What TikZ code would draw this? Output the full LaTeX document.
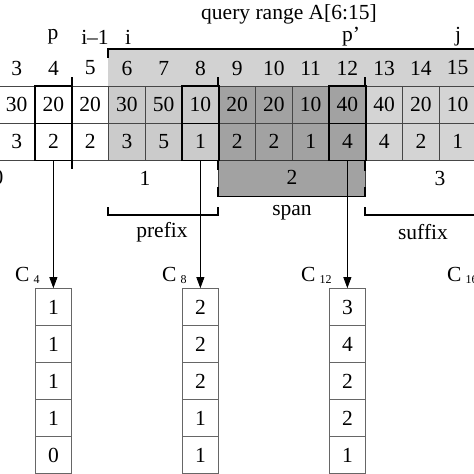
\documentclass[tikz,border=0pt]{standalone}
\usepackage{fontspec}
\setmainfont{Liberation Serif}
\usetikzlibrary{arrows.meta}
\definecolor{lightg}{HTML}{CBCBCB}
\definecolor{darkg}{HTML}{A2A2A2}
\definecolor{sufg}{HTML}{D4D4D4}
\definecolor{idxg}{HTML}{D2D2D2}
\newcommand\csub[2]{#1\hspace{4pt}{\fontsize{12}{12}\selectfont\raisebox{-2pt}{#2}}}
\begin{document}
\begin{tikzpicture}[x=1pt,y=-1pt,
  font=\fontsize{21.5}{23}\selectfont,
  cell/.style={draw=gray!55!black, line width=0.6pt, minimum width=36.75pt,
    minimum height=37pt, inner sep=0pt, anchor=center},
  ccell/.style={draw=gray!80!black, line width=0.7pt, fill=white, minimum width=36.75pt,
    minimum height=37pt, inner sep=0pt, anchor=center},
  boxline/.style={line width=1.6pt, black},
  tick/.style={line width=1.6pt, black},
  ptr/.style={line width=0.8pt, -{Triangle[length=11pt,width=8pt]}},
  lbl/.style={inner sep=0pt, anchor=center}]
\useasboundingbox (0,0) rectangle (474,474);

% index row shading
\fill[idxg] (108,50) rectangle (476,86);

% cells
\foreach \k/\a/\b/\f in {3/30/3/white, 4/20/2/white, 5/20/2/white,
  6/30/3/lightg, 7/50/5/lightg, 8/10/1/lightg,
  9/20/2/darkg, 10/20/2/darkg, 11/10/1/darkg, 12/40/4/darkg,
  13/40/4/sufg, 14/20/2/sufg, 15/10/1/sufg}{
  \pgfmathsetmacro\cx{53.375+(\k-4)*36.75}
  \node[cell, fill=\f] (a\k) at (\cx,104.5) {\a};
  \node[cell, fill=\f] (b\k) at (\cx,141.5) {\b};
  \node[lbl] (i\k) at (\cx,68) {\k};
}

% top bracket and query label
\draw[tick] (108,58) -- (108,49) -- (477,49);
\node[lbl] (q) at (289,14) {query range A[6:15]};
\node[lbl] (lp) at (53,37) {p};
\node[lbl] (li1) at (95,37) {i\textendash 1};
\node[lbl] (li) at (128,37) {i};
\node[lbl] (lpp) at (351,37) {p’};
\node[lbl] (lj) at (458,37) {j};

% block 2 region
\fill[darkg] (218,160) rectangle (365,196);
\draw[line width=0.6pt, gray!45!black] (218,160) rectangle (365,196);
\draw[tick] (218,196.3) -- (365.8,196.3);

% block boundary ticks
\draw[tick] (72,77) -- (72,86);
\draw[tick] (72,160) -- (72,169);
\draw[tick] (218,77) -- (218,86);
\draw[tick] (218,160) -- (218,170);
\draw[tick] (218,187) -- (218,197);
\draw[tick] (365,77) -- (365,86);
\draw[tick] (365,160) -- (365,171);
\draw[tick] (365,187) -- (365,197);

% highlighted boxes
\foreach \k in {4,8,12}{
  \draw[boxline] (a\k.north west) rectangle (b\k.south east);
  \draw[boxline] (a\k.south west) -- (a\k.south east);
}

% block labels
\node[lbl] (blk0) at (-2,177) {0};
\node[lbl] (blk1) at (145,178) {1};
\node[lbl] (blk2) at (292,177) {2};
\node[lbl] (blk3) at (440,178) {3};

% prefix / suffix brackets
\draw[tick] (108,207) -- (108,215) -- (218,215) -- (218,207);
\draw[tick] (365,207) -- (365,215) -- (477,215);
\node[lbl] (lpre) at (162,232) {prefix};
\node[lbl] (lspan) at (292,213) {span};
\node[lbl] (lsuf) at (423,232) {suffix};

% C arrays
\foreach \k/\va/\vb/\vc/\vd/\ve in {4/1/1/1/1/0, 8/2/2/2/1/1, 12/3/4/2/2/1}{
  \pgfmathsetmacro\cx{53.375+(\k-4)*36.75}
  \node[ccell] (c\k-1) at (\cx,307) {\va};
  \node[ccell] (c\k-2) at (\cx,344) {\vb};
  \node[ccell] (c\k-3) at (\cx,381) {\vc};
  \node[ccell] (c\k-4) at (\cx,418) {\vd};
  \node[ccell] (c\k-5) at (\cx,455) {\ve};
}

% C labels
\node[inner sep=0pt, anchor=base west] (cl4) at (15,281) {\csub{C}{4}};
\node[inner sep=0pt, anchor=base west] (cl8) at (162,281) {\csub{C}{8}};
\node[inner sep=0pt, anchor=base west] (cl12) at (301,281) {\csub{C}{12}};
\node[inner sep=0pt, anchor=base west] (cl16) at (447,281) {\csub{C}{16}};

% pointers
\draw[ptr] (b4.south) -- (c4-1.north);
\draw[ptr] (b8.south) -- (c8-1.north);
\draw[ptr] (b12.south) -- (c12-1.north);
\end{tikzpicture}
\end{document}
